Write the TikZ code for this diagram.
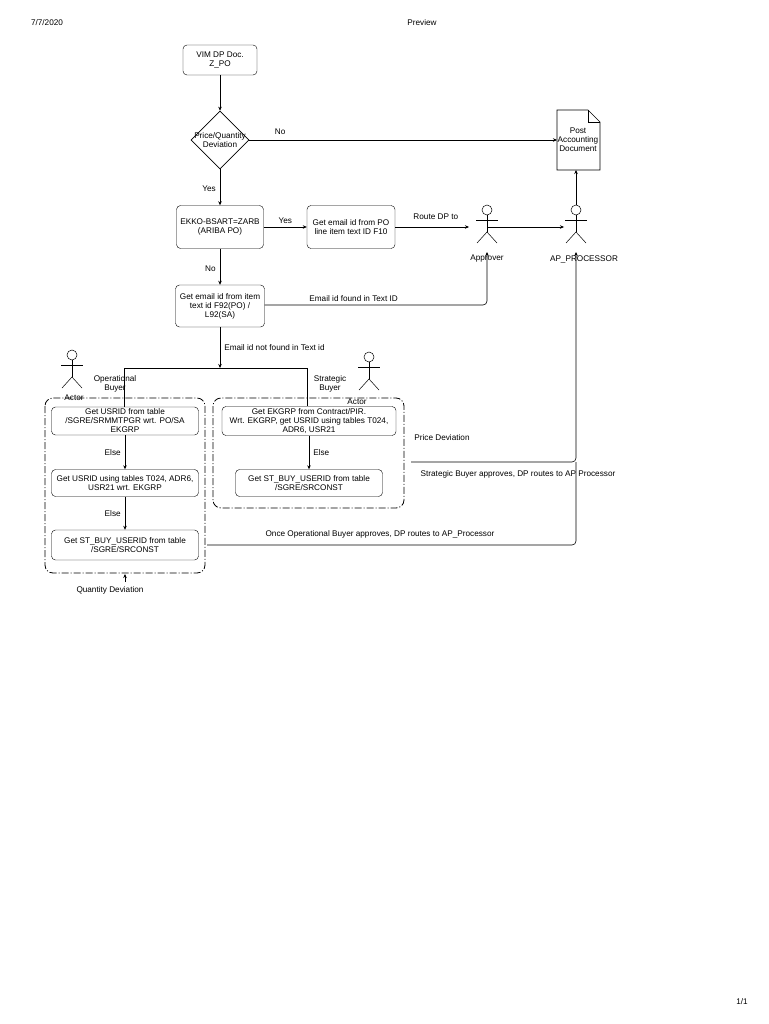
\documentclass[tikz,border=0pt]{standalone}
\usepackage{fontspec}
\setmainfont{Liberation Sans}
\usetikzlibrary{shapes.geometric,arrows.meta}
\begin{document}
\begin{tikzpicture}[x=1pt,y=-1pt,
  every node/.style={font=\fontsize{8.2}{9}\selectfont,align=center,inner sep=1pt},
  box/.style={draw,rounded corners=4pt,minimum width=#1,inner sep=0.5pt},
  box/.default=88pt,
  arr/.style={-{Stealth[length=4pt,width=3.5pt]},line width=0.6pt},
  ln/.style={line width=0.6pt},
  cont/.style={draw,line width=0.8pt,rounded corners=8pt,dash pattern=on 7pt off 2pt on 1pt off 2pt}]
\useasboundingbox (0,0) rectangle (768,1024);
\node (date) at (47,23) {7/7/2020};
\node (prev) at (422,23) {Preview};
\node (pg) at (742,1002) {1/1};

\newcommand{\actor}[3]{% name, x, ytop
  \begin{scope}[line width=0.5pt]
  \draw (#2,#3+5) circle (5);
  \draw (#2,#3+10) -- (#2,#3+27);
  \draw (#2-11,#3+15) -- (#2+11,#3+15);
  \draw (#2-10,#3+38) -- (#2,#3+27) -- (#2+10,#3+38);
  \end{scope}
  \coordinate (#1) at (#2,#3+20);}

\node[box=74pt,minimum height=30pt] (vim) at (220,60) {VIM DP Doc.\\Z\_PO};
\node[draw,diamond,minimum width=58pt,minimum height=58pt,inner sep=0pt,line width=0.6pt] (dia) at (220,140) {};
\node (diat) at (220,140) {Price/Quantity\\Deviation};
\draw[line width=0.6pt] (557,110) -- (588,110) -- (600,122) -- (600,170) -- (557,170) -- cycle;
\draw[line width=0.5pt] (588,110) -- (588,122) -- (600,122);
\node (doc) at (578,140) {Post\\Accounting\\Document};
\coordinate (docL) at (557,140);
\coordinate (docB) at (576,170);

\node[box=87pt,minimum height=43pt] (ekko) at (220,227) {EKKO-BSART=ZARB\\(ARIBA PO)};
\node[box=88pt,minimum height=43pt] (b2) at (351,227) {Get email id from PO\\line item text ID F10};
\actor{appr}{487}{205}
\node (apprl) at (487,259) {Approver};
\actor{ap}{576}{205}
\node (apl) at (584,259) {AP\_PROCESSOR};
\coordinate (apprB) at (487,252);
\coordinate (apB) at (576,252);
\coordinate (apprL) at (469,227);
\coordinate (apL) at (564,227);
\coordinate (apT) at (576,205);

\node[box=89pt,minimum height=42pt] (b3) at (220,306) {Get email id from item\\text id F92(PO) /\\L92(SA)};

\draw[arr] (vim) -- (dia);
\draw[arr] (dia.east) -- node[pos=0.1,above=4pt]{No} (docL);
\draw[arr] (dia.south) -- node[left=3pt,pos=0.55]{Yes} (ekko.north);
\draw[arr] (ekko) -- node[above=2pt]{Yes} (b2);
\draw[arr] (b2) -- node[above=6pt,pos=0.55]{Route DP to} (apprL);
\draw[arr] (487,227) -- (apL);
\draw[arr] (apT) -- (docB);
\draw[arr] (ekko.south) -- node[left=3pt,pos=0.55]{No} (b3.north);
\draw[arr,rounded corners=4pt] (b3.east |- 0,305) -- node[above=2pt,pos=0.4]{Email id found in Text ID} (487,305) -- (apprB);

\coordinate (split) at (220,368);
\draw[arr] (b3.south) -- node[right=3pt,pos=0.5]{Email id not found in Text id} (split);

\draw[cont] (45,398) rectangle (205,573);
\draw[cont] (213,398) rectangle (404,508);
\actor{op}{72}{350}
\node (opl) at (115,384) {Operational\\Buyer};
\node (opa) at (74,398) {Actor};
\actor{st}{369}{352}
\node (stl) at (330,384) {Strategic\\Buyer};
\node (sta) at (357,402) {Actor};

\node[box=147pt,minimum height=28pt,fill=white] (l1) at (125,421) {Get USRID from table\\/SGRE/SRMMTPGR wrt. PO/SA\\EKGRP};
\node[box=147pt,minimum height=27pt] (l2) at (125,483) {Get USRID using tables T024, ADR6,\\USR21 wrt. EKGRP};
\node[box=147pt,minimum height=30pt] (l3) at (125,545) {Get ST\_BUY\_USERID from table\\/SGRE/SRCONST};
\node[box=174pt,minimum height=29pt,fill=white] (r1) at (309,421) {Get EKGRP from Contract/PIR.\\Wrt. EKGRP, get USRID using tables T024,\\ADR6, USR21};
\node[box=147pt,minimum height=27pt] (r2) at (309,483) {Get ST\_BUY\_USERID from table\\/SGRE/SRCONST};

\draw[ln] (124,368) -- (307,368);
\draw[ln] (124,368) -- (l1.north -| 124,0);
\draw[ln] (307,368) -- (r1.north -| 307,0);

\draw[arr] (l1) -- node[left=3pt]{Else} (l2);
\draw[arr] (l2) -- node[left=3pt]{Else} (l3);
\draw[arr] (r1) -- node[right=3pt]{Else} (r2);

\node (pd) at (442,438) {Price Deviation};
\draw[arr,rounded corners=4pt] (411,462) -- (576,462) -- (apB);
\node (sba) at (518,474) {Strategic Buyer approves, DP routes to AP Processor};
\draw[ln,rounded corners=4pt] (207,545) -- (576,545) -- (576,462);
\node (oba) at (380,534) {Once Operational Buyer approves, DP routes to AP\_Processor};
\coordinate (qd0) at (125,582);
\node (qd) at (110,590) {Quantity Deviation};
\draw[arr] (qd0) -- (125,574);
\end{tikzpicture}
\end{document}
